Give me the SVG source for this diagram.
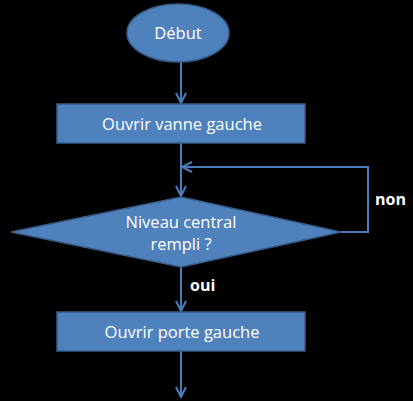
<svg xmlns="http://www.w3.org/2000/svg" width="413" height="401" viewBox="0 0 413 401">
<defs>
<style>
.shape{fill:#4F81BD;stroke:#385D8A;stroke-width:1.5}
.lbl{fill:#FFFFFF;font-family:"Open Sans","Liberation Sans",sans-serif;font-size:16.5px;text-anchor:middle}
.edge{fill:none;stroke:#4A7EBB;stroke-width:2}
.elbl{fill:#FFFFFF;font-family:"Open Sans","Liberation Sans",sans-serif;font-size:16px;font-weight:bold}
</style>
<marker id="arr" viewBox="0 0 12 12" refX="11" refY="6" markerWidth="12" markerHeight="12" markerUnits="userSpaceOnUse" orient="auto">
<polyline points="1,1 11,6 1,11" fill="none" stroke="#4A7EBB" stroke-width="2"/>
</marker>
</defs>
<rect width="413" height="401" fill="#000000"/>
<g id="connectors">
<line class="edge" x1="181" y1="62" x2="181" y2="103" marker-end="url(#arr)"/>
<line class="edge" x1="181" y1="143" x2="181" y2="196" marker-end="url(#arr)"/>
<polyline class="edge" points="341,232 368,232 368,167 182,167" marker-end="url(#arr)"/>
<line class="edge" x1="181" y1="267" x2="181" y2="311" marker-end="url(#arr)"/>
<line class="edge" x1="181" y1="351" x2="181" y2="397" marker-end="url(#arr)"/>
<text class="elbl" x="375" y="205">non</text>
<text class="elbl" x="190" y="291">oui</text>
</g>
<g id="debut">
<ellipse class="shape" cx="178" cy="33" rx="51" ry="29"/>
<text class="lbl" x="178" y="39">Début</text>
</g>
<g id="ouvrir-vanne">
<rect class="shape" x="57" y="104" width="248" height="39"/>
<text class="lbl" x="182" y="130">Ouvrir vanne gauche</text>
</g>
<g id="niveau">
<polygon class="shape" points="181,197 341,232 181,267 11,232"/>
<text class="lbl" x="181" y="228">Niveau central</text>
<text class="lbl" x="181" y="250">rempli ?</text>
</g>
<g id="ouvrir-porte">
<rect class="shape" x="57" y="312" width="248" height="39"/>
<text class="lbl" x="182" y="338">Ouvrir porte gauche</text>
</g>
</svg>
